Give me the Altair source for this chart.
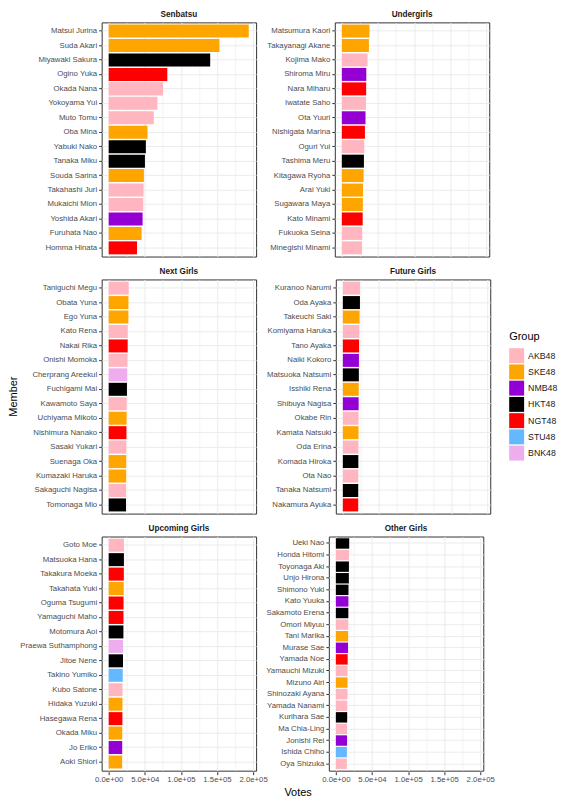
import altair as alt
import pandas as pd

facet_order = ["Senbatsu", "Undergirls", "Next Girls", "Future Girls", "Upcoming Girls", "Other Girls"]

senbatsu_members = ["Matsui Jurina", "Suda Akari", "Miyawaki Sakura", "Ogino Yuka", "Okada Nana", "Yokoyama Yui",
                    "Muto Tomu", "Oba Mina", "Yabuki Nako", "Tanaka Miku", "Souda Sarina", "Takahashi Juri",
                    "Mukaichi Mion", "Yoshida Akari", "Furuhata Nao", "Homma Hinata"]
senbatsu_groups = ["SKE48", "SKE48", "HKT48", "NGT48", "AKB48", "AKB48", "AKB48", "SKE48", "HKT48", "HKT48",
                   "SKE48", "AKB48", "AKB48", "NMB48", "SKE48", "NGT48"]
senbatsu_votes = [194000, 153400, 140600, 81200, 75300, 67500, 62500, 53800, 51500, 50200, 48800, 48400,
                  47900, 47000, 45600, 39200]

under_members = ["Matsumura Kaori", "Takayanagi Akane", "Kojima Mako", "Shiroma Miru", "Nara Miharu", "Iwatate Saho",
                 "Ota Yuuri", "Nishigata Marina", "Oguri Yui", "Tashima Meru", "Kitagawa Ryoha", "Arai Yuki",
                 "Sugawara Maya", "Kato Minami", "Fukuoka Seina", "Minegishi Minami"]
under_groups = ["SKE48", "SKE48", "AKB48", "NMB48", "NGT48", "AKB48", "NMB48", "NGT48", "AKB48", "HKT48",
                "SKE48", "SKE48", "SKE48", "NGT48", "AKB48", "AKB48"]
under_votes = [38300, 37500, 35600, 33900, 33700, 33500, 32800, 32000, 31100, 30600, 30200, 29300,
               29100, 28900, 28300, 28100]

next_members = ["Taniguchi Megu", "Obata Yuna", "Ego Yuna", "Kato Rena", "Nakai Rika", "Onishi Momoka",
                "Cherprang Areekul", "Fuchigami Mai", "Kawamoto Saya", "Uchiyama Mikoto", "Nishimura Nanako",
                "Sasaki Yukari", "Suenaga Oka", "Kumazaki Haruka", "Sakaguchi Nagisa", "Tomonaga Mio"]
next_groups = ["AKB48", "SKE48", "SKE48", "AKB48", "NGT48", "AKB48", "BNK48", "HKT48", "AKB48", "SKE48",
               "NGT48", "AKB48", "SKE48", "SKE48", "AKB48", "HKT48"]
next_votes = [27800, 27400, 27300, 26400, 26300, 26000, 25500, 25300, 25000, 24800, 24600, 24500,
              24300, 24200, 24100, 24000]

future_members = ["Kuranoo Narumi", "Oda Ayaka", "Takeuchi Saki", "Komiyama Haruka", "Tano Ayaka", "Naiki Kokoro",
                  "Matsuoka Natsumi", "Isshiki Rena", "Shibuya Nagisa", "Okabe Rin", "Kamata Natsuki", "Oda Erina",
                  "Komada Hiroka", "Ota Nao", "Tanaka Natsumi", "Nakamura Ayuka"]
future_groups = ["AKB48", "HKT48", "SKE48", "AKB48", "NGT48", "NMB48", "HKT48", "SKE48", "NMB48", "AKB48",
                 "SKE48", "AKB48", "HKT48", "AKB48", "HKT48", "NGT48"]
future_votes = [23900, 23700, 23200, 22900, 22500, 22300, 22200, 22000, 21900, 21800, 21700, 21600,
                21500, 21400, 21350, 21300]

upcoming_members = ["Goto Moe", "Matsuoka Hana", "Takakura Moeka", "Takahata Yuki", "Oguma Tsugumi",
                    "Yamaguchi Maho", "Motomura Aoi", "Praewa Suthamphong", "Jitoe Nene", "Takino Yumiko",
                    "Kubo Satone", "Hidaka Yuzuki", "Hasegawa Rena", "Okada Miku", "Jo Eriko", "Aoki Shiori"]
upcoming_groups = ["AKB48", "HKT48", "NGT48", "SKE48", "NGT48", "NGT48", "HKT48", "BNK48", "HKT48", "STU48",
                   "AKB48", "SKE48", "NGT48", "SKE48", "NMB48", "SKE48"]
upcoming_votes = [21200, 21100, 21000, 20800, 20600, 20500, 20400, 19900, 19800, 19500, 19200, 19100,
                  19000, 18800, 18750, 18700]

other_members = ["Ueki Nao", "Honda Hitomi", "Toyonaga Aki", "Unjo Hirona", "Shimono Yuki", "Kato Yuuka",
                 "Sakamoto Erena", "Omori Miyuu", "Tani Marika", "Murase Sae", "Yamada Noe", "Yamauchi Mizuki",
                 "Mizuno Airi", "Shinozaki Ayana", "Yamada Nanami", "Kurihara Sae", "Ma Chia-Ling", "Jonishi Rei",
                 "Ishida Chiho", "Oya Shizuka"]
other_groups = ["HKT48", "AKB48", "HKT48", "HKT48", "HKT48", "NMB48", "HKT48", "AKB48", "SKE48", "NMB48",
                "NGT48", "AKB48", "SKE48", "AKB48", "AKB48", "HKT48", "AKB48", "NMB48", "STU48", "AKB48"]
other_votes = [18500, 18200, 18100, 18000, 17500, 17400, 17300, 17200, 17000, 16900, 16400, 16300,
               16200, 16100, 15800, 15700, 15600, 15500, 15300, 15200]

group_order = ["AKB48", "SKE48", "NMB48", "HKT48", "NGT48", "STU48", "BNK48"]
group_colors = ["#FFB6C1", "#FFA500", "#9400D3", "#000000", "#FF0000", "#63B8FF", "#EEAEEE"]

x_tick_values = [0, 25000, 50000, 75000, 100000, 125000, 150000, 175000, 200000]
x_domain = [-9722, 204175]

blocks = [
    ("Senbatsu", senbatsu_members, senbatsu_groups, senbatsu_votes),
    ("Undergirls", under_members, under_groups, under_votes),
    ("Next Girls", next_members, next_groups, next_votes),
    ("Future Girls", future_members, future_groups, future_votes),
    ("Upcoming Girls", upcoming_members, upcoming_groups, upcoming_votes),
    ("Other Girls", other_members, other_groups, other_votes),
]
rows = []
rank = 0
for cat, mems, grps, vts in blocks:
    for m, g, v in zip(mems, grps, vts):
        rank += 1
        rows.append({"Member": m, "Group": g, "Votes": v, "Category": cat, "Rank": rank})
df = pd.DataFrame(rows)

FONT = "Liberation Sans"
minor_test = "datum.value % 50000 != 0"

base = alt.Chart(df).mark_bar().encode(
    x=alt.X(
        "Votes:Q",
        scale=alt.Scale(domain=x_domain, nice=False, zero=False),
        axis=alt.Axis(
            title=None,
            values=x_tick_values,
            labelExpr="datum.value % 50000 ? '' : replace(format(datum.value, '.1e'), 'e+', 'e+0')",
            tickOpacity={"condition": {"test": minor_test, "value": 0}, "value": 1},
            gridWidth={"condition": {"test": minor_test, "value": 0.6}, "value": 1},
            labelFlush=False,
            labelPadding=1,
        ),
    ),
    y=alt.Y(
        "Member:N",
        sort=alt.EncodingSortField(field="Rank", op="min", order="ascending"),
        scale=alt.Scale(paddingInner=0.1, paddingOuter=0.15),
        axis=alt.Axis(title=None, bandPosition=0.5, grid=True),
    ),
    color=alt.Color(
        "Group:N",
        scale=alt.Scale(domain=group_order, range=group_colors),
        legend=alt.Legend(
            title="Group",
            orient="none",
            legendX=409,
            legendY=310,
            symbolType="square",
            symbolSize=225,
            symbolStrokeWidth=0,
            symbolOpacity=1,
            rowPadding=1.3,
            labelFontSize=8.8,
            labelFont=FONT,
            labelColor="#1A1A1A",
            titleFontSize=11,
            titleFont=FONT,
            titleFontWeight="normal",
            titleColor="#000000",
            titlePadding=6,
            labelOffset=4,
        ),
    ),
).properties(width=155, height=235)

facet = base.facet(
    facet=alt.Facet(
        "Category:N",
        sort=facet_order,
        header=alt.Header(
            title=None,
            labelFont=FONT,
            labelFontSize=8.2,
            labelFontWeight="bold",
            labelColor="#1A1A1A",
            labelPadding=3,
        ),
    ),
    columns=2,
    spacing={"row": 9, "column": 8},
).resolve_scale(y="independent").properties(
    title=alt.TitleParams(
        "Member", orient="left", anchor="middle", fontSize=11, fontWeight="normal",
        font=FONT, color="#000000", offset=0,
    )
)

chart = alt.vconcat(facet).properties(
    title=alt.TitleParams(
        "Votes", orient="bottom", anchor="middle", fontSize=11, fontWeight="normal",
        font=FONT, color="#000000", offset=4, dx=15,
    ),
    padding=0,
).configure_view(
    stroke="#333333", strokeWidth=1
).configure_axis(
    labelFont=FONT,
    labelFontSize=7.8,
    labelColor="#4D4D4D",
    tickColor="#333333",
    tickSize=3,
    labelPadding=2,
    gridColor="#EBEBEB",
    domain=False,
)

chart.save("out.html", embed_options={"renderer": "svg", "actions": False})
